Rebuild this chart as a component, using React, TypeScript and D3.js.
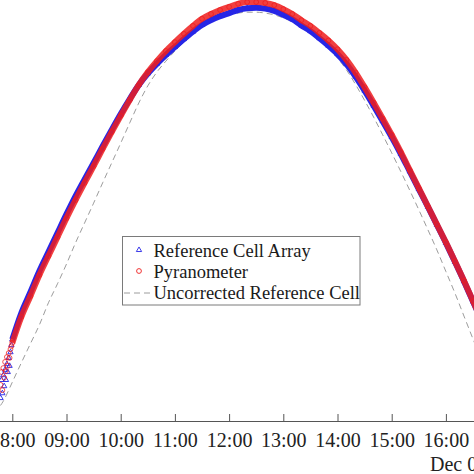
import React, { useEffect, useRef } from 'react';
import * as d3 from 'd3';

// dawn readings, one per minute, before the curve settles
const dawnTimes = ['07:47', '07:48', '07:49', '07:50', '07:51', '07:52', '07:53', '07:54', '07:55', '07:56', '07:57', '07:58', '07:59'];
const dawnCellArray = [52, 93, 63, 104, 79, 116, 93, 129, 111, 143, 125, 156, 172];
const dawnPyranometer = [82, 111, 70, 120, 98, 134, 113, 145, 125, 154, 143, 163, 170];

// 10 minute readings for the rest of the day (W/m2)
const times = [
  '08:00', '08:10', '08:20', '08:30', '08:40', '08:50',
  '09:00', '09:10', '09:20', '09:30', '09:40', '09:50',
  '10:00', '10:10', '10:20', '10:30', '10:40', '10:50',
  '11:00', '11:10', '11:20', '11:30', '11:40', '11:50',
  '12:00', '12:10', '12:20', '12:30', '12:40', '12:50',
  '13:00', '13:10', '13:20', '13:30', '13:40', '13:50',
  '14:00', '14:10', '14:20', '14:30', '14:40', '14:50',
  '15:00', '15:10', '15:20', '15:30', '15:40', '15:50',
  '16:00', '16:10', '16:20', '16:30', '16:40',
];
const cellArray = [
  185, 245, 292, 340, 383, 426,
  469, 510, 548, 585, 623, 660,
  696, 730, 762, 788, 810, 830,
  848, 866, 883, 898, 909, 918,
  925, 932, 936, 937, 935, 930,
  921, 911, 897, 884, 868, 851,
  832, 809, 781, 749, 715, 680,
  644, 606, 566, 526, 486, 445,
  404, 361, 317, 271, 225,
];
const pyranometer = [
  177, 236, 283, 331, 374, 417,
  460, 501, 540, 578, 617, 655,
  692, 728, 762, 791, 816, 839,
  859, 878, 896, 912, 923, 932,
  939, 946, 950, 950, 948, 943,
  934, 923, 909, 896, 880, 863,
  843, 819, 790, 757, 722, 686,
  649, 610, 569, 528, 487, 446,
  405, 362, 318, 272, 226,
];
const uncorrectedTimes = ['07:40', '07:50', ...times];
const uncorrected = [
  18, 45,
  88, 132, 175, 218, 268, 311,
  356, 404, 449, 494, 540, 585,
  630, 676, 721, 760, 791, 816,
  839, 859, 878, 893, 905, 914,
  921, 925, 927, 927, 925, 921,
  914, 905, 893, 880, 864, 846,
  823, 796, 763, 727, 689, 649,
  608, 566, 523, 479, 434, 388,
  339, 290, 238, 186, 135,
];

const legendLabels = ['Reference Cell Array', 'Pyranometer', 'Uncorrected Reference Cell'];
const dateLabel = 'Dec 04, 2017';

const BLUE = '#2626e6';
const RED = '#ee1d1d';
const GREY = '#9c9c9c';
const SERIF = '"Liberation Serif", "Times New Roman", serif';

function App() {
  const ref = useRef<SVGSVGElement>(null);

  useEffect(() => {
    document.body.style.margin = '0';
    const svg = d3.select(ref.current);
    svg.selectAll('*').remove();

    const parse = d3.timeParse('%H:%M');
    const axisY = 421;
    const hourPx = 54.2;
    const x08 = 12.3;

    const x = d3
      .scaleTime()
      .domain([parse('07:45') as Date, parse('16:45') as Date])
      .range([x08 - 0.25 * hourPx, x08 + 8.75 * hourPx]);
    const y = d3.scaleLinear().domain([0, 1000]).range([axisY, -20]);

    type Pt = { t: Date; v: number };
    const zip = (ts: string[], vs: number[]): Pt[] =>
      ts.map((s, i) => ({ t: parse(s) as Date, v: vs[i] }));

    const cellPts = zip(times, cellArray);
    const pyrPts = zip(times, pyranometer);
    const uncPts = zip(uncorrectedTimes, uncorrected);
    const dawnCell = zip(dawnTimes, dawnCellArray);
    const dawnPyr = zip(dawnTimes, dawnPyranometer);

    const line = d3
      .line<Pt>()
      .x(d => x(d.t))
      .y(d => y(d.v))
      .curve(d3.curveMonotoneX);

    const tri = d3.symbol().type(d3.symbolTriangle).size(12);

    // uncorrected reference cell, dashed
    svg
      .append('path')
      .attr('d', line(uncPts))
      .attr('fill', 'none')
      .attr('stroke', GREY)
      .attr('stroke-width', 1)
      .attr('stroke-dasharray', '6 4');

    // reference cell array: dense markers form a band
    svg
      .append('path')
      .attr('d', line(cellPts))
      .attr('fill', 'none')
      .attr('stroke', BLUE)
      .attr('stroke-width', 6);
    svg
      .append('g')
      .selectAll('path')
      .data([...dawnCell, ...cellPts])
      .enter()
      .append('path')
      .attr('d', tri)
      .attr('transform', d => 'translate(' + x(d.t) + ',' + y(d.v) + ')')
      .attr('fill', 'none')
      .attr('stroke', BLUE)
      .attr('stroke-width', 0.9);

    // pyranometer on top
    svg
      .append('path')
      .attr('d', line(pyrPts))
      .attr('fill', 'none')
      .attr('stroke', RED)
      .attr('stroke-opacity', 0.85)
      .attr('stroke-width', 6);
    svg
      .append('g')
      .selectAll('circle')
      .data([...dawnPyr, ...pyrPts])
      .enter()
      .append('circle')
      .attr('cx', d => x(d.t))
      .attr('cy', d => y(d.v))
      .attr('r', 2.4)
      .attr('fill', 'none')
      .attr('stroke', RED)
      .attr('stroke-opacity', 0.85)
      .attr('stroke-width', 0.9);

    // time axis
    const axis = svg
      .append('g')
      .attr('transform', 'translate(0,' + axisY + ')')
      .call(
        d3
          .axisBottom(x)
          .ticks(d3.timeHour.every(1))
          .tickFormat(d3.timeFormat('%H:%M') as any)
          .tickSizeInner(-7)
          .tickSizeOuter(0)
          .tickPadding(12)
      )
      .attr('font-family', SERIF)
      .attr('font-size', 20);
    axis.select('.domain').attr('stroke', '#555');
    axis.selectAll('.tick line').attr('stroke', '#555');
    axis.selectAll('.tick text').attr('fill', '#222');

    svg
      .append('text')
      .attr('x', 430)
      .attr('y', 471)
      .attr('font-family', SERIF)
      .attr('font-size', 20)
      .attr('fill', '#222')
      .text(dateLabel);

    // legend
    const lg = svg.append('g');
    lg.append('rect')
      .attr('x', 122.5)
      .attr('y', 236.5)
      .attr('width', 237.5)
      .attr('height', 68.5)
      .attr('fill', 'white')
      .attr('stroke', '#7a7a7a')
      .attr('stroke-width', 1);
    lg.append('path')
      .attr('d', tri)
      .attr('transform', 'translate(139,250)')
      .attr('fill', 'none')
      .attr('stroke', BLUE)
      .attr('stroke-width', 0.9);
    lg.append('circle')
      .attr('cx', 139)
      .attr('cy', 271)
      .attr('r', 2.4)
      .attr('fill', 'none')
      .attr('stroke', RED)
      .attr('stroke-width', 0.9);
    lg.append('line')
      .attr('x1', 124)
      .attr('x2', 152)
      .attr('y1', 293)
      .attr('y2', 293)
      .attr('stroke', GREY)
      .attr('stroke-width', 1)
      .attr('stroke-dasharray', '6 4');
    lg.selectAll('text.label')
      .data(legendLabels)
      .enter()
      .append('text')
      .attr('class', 'label')
      .attr('x', 153.5)
      .attr('y', (d, i) => 257 + i * 21)
      .attr('font-family', SERIF)
      .attr('font-size', 18.5)
      .attr('fill', '#1a1a1a')
      .text(d => d);
  }, []);

  return <svg ref={ref} width={474} height={474} style={{ display: 'block', background: 'white' }} />;
}

export default App;
